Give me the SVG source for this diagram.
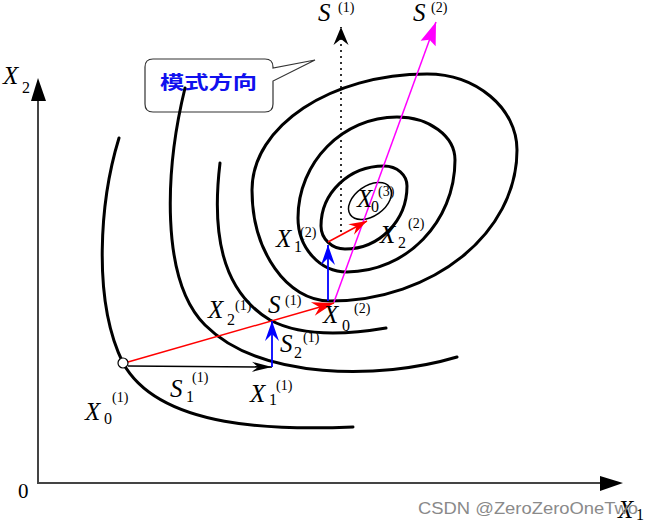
<svg xmlns="http://www.w3.org/2000/svg" width="651" height="522" viewBox="0 0 651 522">
<style>
.curve{fill:none;stroke:#000;stroke-width:3;stroke-linecap:round}
.thin{fill:none;stroke:#000;stroke-width:1.5}
.axis{fill:none;stroke:#444;stroke-width:2}
.m{font-family:"Liberation Serif","Times New Roman",serif;font-style:italic;font-size:25px;fill:#000}
.sb{font-family:"Liberation Serif","Times New Roman",serif;font-size:16px;fill:#000}
.sp{font-family:"Liberation Serif","Times New Roman",serif;font-size:14px;fill:#000}
</style>
<defs>
<marker id="ah-red" viewBox="-24 -10 26 20" refX="0" refY="0" markerWidth="26" markerHeight="20" markerUnits="userSpaceOnUse" orient="auto"><path d="M0,0 L-22,-7 L-15,0 L-22,7 Z" fill="#ff0000"/></marker>
<marker id="ah-red-s" viewBox="-24 -10 26 20" refX="0" refY="0" markerWidth="26" markerHeight="20" markerUnits="userSpaceOnUse" orient="auto"><path d="M0,0 L-18,-6 L-12,0 L-18,6 Z" fill="#ff0000"/></marker>
<marker id="ah-blue" viewBox="-24 -10 26 20" refX="0" refY="0" markerWidth="26" markerHeight="20" markerUnits="userSpaceOnUse" orient="auto"><path d="M0,0 L-20,-7 L-13,0 L-20,7 Z" fill="#0000ff"/></marker>
<marker id="ah-black" viewBox="-24 -10 26 20" refX="0" refY="0" markerWidth="26" markerHeight="20" markerUnits="userSpaceOnUse" orient="auto"><path d="M0,0 L-20,-5 L-14,0 L-20,5 Z" fill="#000"/></marker>
<marker id="ah-dot" viewBox="-24 -10 26 20" refX="0" refY="0" markerWidth="26" markerHeight="20" markerUnits="userSpaceOnUse" orient="auto"><path d="M0,0 L-18,-7.5 L-12,0 L-18,7.5 Z" fill="#000"/></marker>
<marker id="ah-mag" viewBox="-26 -10 28 20" refX="0" refY="0" markerWidth="28" markerHeight="20" markerUnits="userSpaceOnUse" orient="auto"><path d="M0,0 L-23,-8 L-19,0 L-23,8 Z" fill="#ff00ff"/></marker>
</defs>
<rect width="651" height="522" fill="#fff"/>

<g id="axes">
<path class="axis" d="M38,100 V483 H602"/>
<polygon points="38,78 31,101 46,101" fill="#000"/>
<polygon points="623,483 600,476 600,491" fill="#000"/>
<text x="18" y="498" font-family="Liberation Serif, serif" font-size="21">0</text>
<text class="m" x="3" y="84" font-size="23">X</text><text class="sb" x="22" y="93">2</text>
<text class="m" x="618" y="518" font-size="23">X</text><text class="sb" x="636" y="520" font-size="13">1</text>
</g>

<g id="callout">
<path d="M153,59 H265 Q273,59 273,67 V68 L315,60 L273,81 V104 Q273,112 265,112 H153 Q145,112 145,104 V67 Q145,59 153,59 Z" fill="#fff" stroke="#333" stroke-width="1.2"/>
<text transform="translate(160,89) scale(1.35,1)" font-family="Noto Sans CJK SC, sans-serif" font-weight="bold" font-size="18" fill="#1010ee">模式方向</text>
</g>

<g id="contours">
<path class="curve" d="M427,74 C476,74 517,108 517,150 C517,233 433,301 330,301 C287,301 252,251 252,190 C252,126 331,74 427,74 Z"/>
<path class="curve" d="M397,117 C429,117 455,136 455,160 C455,222 406,272 347,272 C320,272 298,248 298,218 C298,162 343,117 397,117 Z"/>
<path class="curve" d="M384,166 C397,166 407,175 407,186 C407,221 379,249 345,249 C332,249 321,239 321,226 C321,193 349,166 384,166 Z"/>
<ellipse class="thin" cx="370" cy="201" rx="24" ry="15" transform="rotate(-35 370 201)"/>
<path class="curve" d="M119,138 C100,200 92,300 123,363 C160,430 280,430 353,427"/>
<path class="curve" d="M185,88 C165,170 160,280 205,325 C260,380 380,380 457,357"/>
<path class="curve" d="M220,163 C212,230 220,290 270,320 C300,336 345,335 386,328"/>
</g>

<g id="connectors">
<line x1="341" y1="232" x2="341" y2="27" stroke="#000" stroke-width="1.6" stroke-dasharray="2,4" marker-end="url(#ah-dot)"/>
<line x1="334" y1="302" x2="436" y2="22" stroke="#ff00ff" stroke-width="1.5" marker-end="url(#ah-mag)"/>
<line x1="128" y1="366" x2="272" y2="367" stroke="#000" stroke-width="1.5" marker-end="url(#ah-black)"/>
<line x1="128" y1="362" x2="334" y2="303" stroke="#ff0000" stroke-width="1.5" marker-end="url(#ah-red)"/>
<line x1="272" y1="367" x2="272" y2="321" stroke="#0000ff" stroke-width="1.8" marker-end="url(#ah-blue)"/>
<line x1="328" y1="301" x2="328" y2="245" stroke="#0000ff" stroke-width="1.8" marker-end="url(#ah-blue)"/>
<line x1="328" y1="242" x2="367" y2="221" stroke="#ff0000" stroke-width="1.5" marker-end="url(#ah-red-s)"/>
<circle cx="123" cy="363" r="5" fill="#fff" stroke="#000" stroke-width="1.2"/>
</g>

<g id="labels">
<text class="m" x="318" y="21">S</text><text class="sp" x="338" y="12">(1)</text>
<text class="m" x="413" y="21">S</text><text class="sp" x="431" y="12">(2)</text>
<text class="m" x="85" y="420">X</text><text class="sb" x="104" y="424">0</text><text class="sp" x="112" y="402">(1)</text>
<text class="m" x="170" y="397">S</text><text class="sb" x="186" y="402">1</text><text class="sp" x="192" y="382">(1)</text>
<text class="m" x="250" y="402">X</text><text class="sb" x="269" y="405">1</text><text class="sp" x="276" y="390">(1)</text>
<text class="m" x="280" y="352">S</text><text class="sb" x="294" y="358">2</text><text class="sp" x="303" y="342">(1)</text>
<text class="m" x="208" y="318">X</text><text class="sb" x="227" y="325">2</text><text class="sp" x="235" y="310">(1)</text>
<text class="m" x="268" y="313">S</text><text class="sp" x="285" y="305">(1)</text>
<text class="m" x="323" y="323">X</text><text class="sb" x="342" y="331">0</text><text class="sp" x="354" y="313">(2)</text>
<text class="m" x="276" y="247">X</text><text class="sb" x="294" y="252">1</text><text class="sp" x="300" y="237">(2)</text>
<text class="m" x="380" y="243">X</text><text class="sb" x="398" y="248">2</text><text class="sp" x="408" y="228">(2)</text>
<text class="m" x="357" y="207" font-size="19">X</text><text class="sb" x="371" y="212" font-size="12">0</text><text class="sp" x="378" y="196" font-size="11">(3)</text>
</g>

<text x="418" y="514" font-family="Liberation Sans, Arial, sans-serif" font-size="16" fill="#8a8a8a" textLength="220" lengthAdjust="spacingAndGlyphs">CSDN @ZeroZeroOneTwo</text>
</svg>
